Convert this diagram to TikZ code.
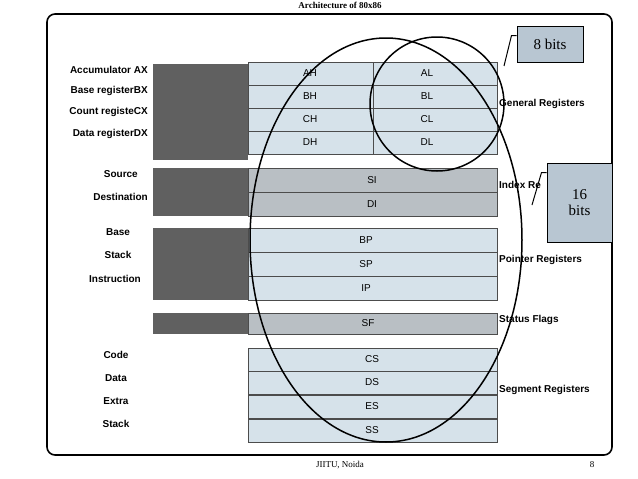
\documentclass[tikz,border=0pt]{standalone}
\usepackage{fontspec}
\setmainfont{Liberation Sans}
\newfontfamily\serifF{Liberation Serif}
\definecolor{regc}{HTML}{D6E2EA}
\definecolor{iregc}{HTML}{B9BFC4}
\definecolor{notec}{HTML}{B8C6D2}
\begin{document}
\begin{tikzpicture}[x=1pt,y=-1pt,
  reg/.style={draw=black!70,fill=regc,line width=0.6pt},
  ireg/.style={draw=black!70,fill=iregc,line width=0.6pt},
  dark/.style={fill=gray!75!black,draw=none},
  lab/.style={font=\bfseries\fontsize{10}{12}\selectfont,inner sep=0pt},
  rt/.style={font=\fontsize{10}{12}\selectfont,inner sep=0pt},
  rl/.style={lab,anchor=east},
  cl/.style={lab},
  gl/.style={lab,anchor=west},
  note/.style={draw=black,line width=1pt,fill=notec,font=\serifF\fontsize{15}{16}\selectfont,align=center,inner sep=0pt}]
\useasboundingbox (0,0) rectangle (638,479);
\node[font=\serifF\bfseries\fontsize{9}{10}\selectfont] (title) at (340,5) {Architecture of 80x86};
\draw[line width=1.6pt,rounded corners=8pt] (47,14) rectangle (612,455);
\fill[dark] (153,64) rectangle (248,160);
\fill[dark] (153,168) rectangle (248,216);
\fill[dark] (153,228) rectangle (248,300);
\fill[dark] (153,313) rectangle (248,334);
% general
\foreach \y/\h/\l in {62/AH/AL,85/BH/BL,108/CH/CL,131/DH/DL}{
  \draw[reg] (248,\y) rectangle (373,\y+23);
  \draw[reg] (373,\y) rectangle (497,\y+23);
  \node[rt] at (310,\y+11.5) {\h};
  \node[rt] at (427,\y+11.5) {\l};}
\foreach \y/\t in {168/SI,192/DI}{\draw[ireg] (248,\y) rectangle (497,\y+24);
  \node[rt] at (372,\y+12) {\t};}
\foreach \y/\t in {228/BP,252/SP,276/IP}{\draw[reg] (248,\y) rectangle (497,\y+24);
  \node[rt] at (366,\y+12) {\t};}
\draw[ireg] (248,313) rectangle (497,334);
\node[rt] at (368,323.5) {SF};
\foreach \y/\t in {348/CS,371/DS,395/ES,419/SS}{\draw[reg] (248,\y) rectangle (497,\y+23);
  \node[rt] at (372,\y+11.5) {\t};}
% left labels
\node[rl] (ax) at (148,70) {Accumulator AX};
\node[rl] (bx) at (148,91) {Base registerBX};
\node[rl] (cx) at (148,112) {Count registeCX};
\node[rl] (dx) at (148,134) {Data registerDX};
\node[rl] (src) at (138,174) {Source};
\node[rl] (dst) at (148,197) {Destination};
\node[cl] (bs) at (118,232) {Base};
\node[cl] (st) at (118,255) {Stack};
\node[cl] (ins) at (115,279) {Instruction};
\node[cl] (cd) at (116,355) {Code};
\node[cl] (dt) at (116,378) {Data};
\node[cl] (ex) at (116,401) {Extra};
\node[cl] (sk) at (116,424) {Stack};
% right labels
\node[gl] (gr) at (499,104) {General Registers};
\node[gl] (ir) at (499,185) {Index Re};
\node[gl] (pr) at (499,260) {Pointer Registers};
\node[gl] (sf) at (499,320) {Status Flags};
\node[gl] (sr) at (499,390) {Segment Registers};
% ellipses
\draw[line width=1.5pt] (386,240) ellipse [x radius=136,y radius=202];
\draw[line width=1.5pt] (437,104) circle (67);
% notes
\node[note,minimum width=66pt,minimum height=36pt] (n8) at (550,44) {8 bits};
\node[note,minimum width=65pt,minimum height=79pt] (n16) at (579.5,202.5) {16\\bits};
\draw[line width=1pt] (n8.north west)++(0,10) -- ++(-5,0) -- (504,66);
\draw[line width=1pt] (n16.north west)++(0,10) -- ++(-5,0) -- (532,205);
\node[font=\serifF\fontsize{9}{10}\selectfont] (ft) at (340,465) {JIITU, Noida};
\node[font=\serifF\fontsize{9}{10}\selectfont] (pg) at (592,465) {8};
\end{tikzpicture}
\end{document}
